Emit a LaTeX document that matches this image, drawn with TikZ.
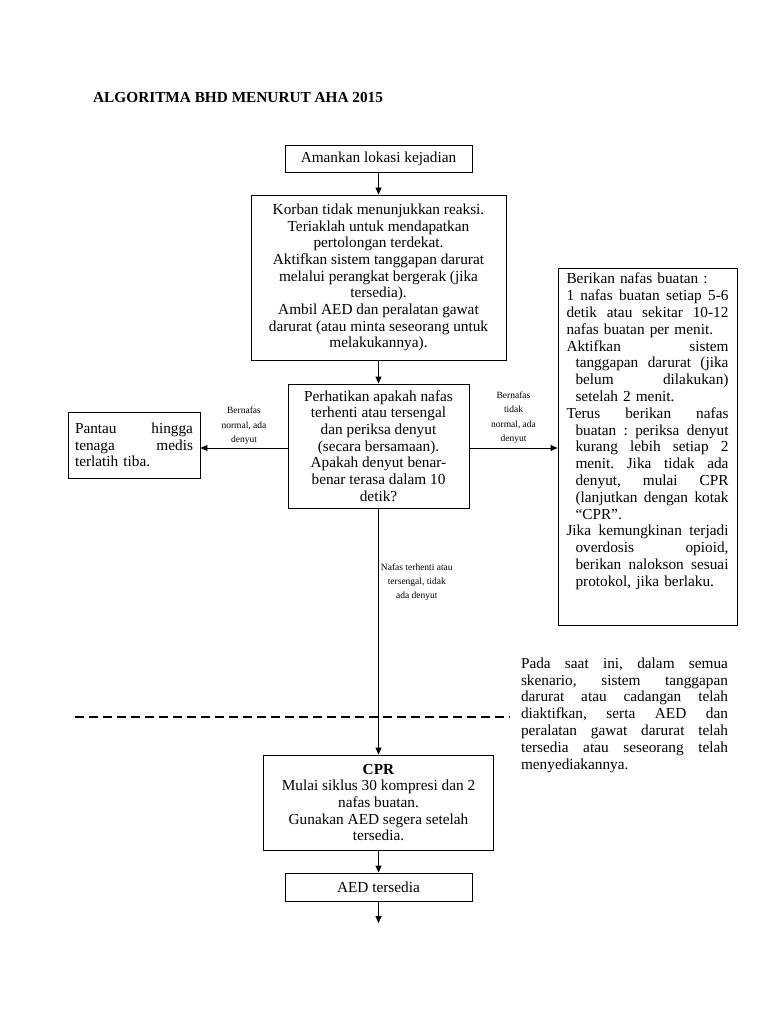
\documentclass[tikz,border=0pt]{standalone}
\usepackage{fontspec}
\setmainfont{Liberation Serif}
\usepackage{xcolor}
\usetikzlibrary{arrows.meta}
\frenchspacing
\newcommand{\jline}[1]{{\spaceskip=0pt\xspaceskip=0pt\makebox[\hsize][s]{#1}}}
\newcommand{\hangjline}[1]{{\spaceskip=0pt\xspaceskip=0pt\hspace*{9pt}\makebox[\dimexpr\hsize-9pt\relax][s]{#1}}}
\newcommand{\hangplain}[1]{\hspace*{9pt}#1}
\tikzset{
  flowBox/.style={draw, line width=0.9pt, inner sep=2pt, align=center,
    font=\fontsize{15.3}{16.7}\selectfont},
  flowArrow/.style={line width=0.9pt, -{Triangle[length=7pt,width=6pt]}},
  edgeLabel/.style={align=center, inner sep=0pt, font=\fontsize{9.5}{14.3}\selectfont},
  plainText/.style={align=left, inner sep=0pt, font=\fontsize{15.3}{16.8}\selectfont}
}

\begin{document}
\begin{tikzpicture}[x=1pt, y=-1pt]
  \useasboundingbox[fill=white] (0,0) rectangle (768,1024);
  \node[anchor=west, inner sep=0pt, font=\fontsize{15.3}{17}\selectfont\bfseries] (title) at (93,97) {ALGORITMA BHD MENURUT AHA 2015};
  \node[flowBox, minimum width=187, minimum height=27] (amankan) at (378.5,158.5) {Amankan lokasi kejadian};
  \node[flowBox, minimum width=255, minimum height=165] (korban) at (378.5,277.5) {Korban tidak menunjukkan reaksi.\\Teriaklah untuk mendapatkan\\pertolongan terdekat.\\Aktifkan sistem tanggapan darurat\\melalui perangkat bergerak (jika\\tersedia).\\Ambil AED dan peralatan gawat\\darurat (atau minta seseorang untuk\\melakukannya).};
  \node[flowBox, minimum width=181, minimum height=124] (periksa) at (378.5,446) {Perhatikan apakah nafas\\terhenti atau tersengal\\dan periksa denyut\\(secara bersamaan).\\Apakah denyut benar-\\benar terasa dalam 10\\detik?};
  \node[flowBox, minimum width=132, minimum height=66, text width=118, align=left] (pantau) at (134,445) {\jline{Pantau hingga}\\\jline{tenaga medis}\\terlatih tiba.};
  \node[flowBox, minimum width=179, minimum height=357] (nafasBox) at (647.5,446.5) {};
  \node[plainText, anchor=north, text width=162] (nafasText) at (647.5,273) {Berikan nafas buatan :\\\jline{1 nafas buatan setiap 5-6}\\\jline{detik atau sekitar 10-12}\\nafas buatan per menit.\\\jline{Aktifkan sistem}\\\hangjline{tanggapan darurat (jika}\\\hangjline{belum dilakukan)}\\\hangplain{setelah 2 menit.}\\\jline{Terus berikan nafas}\\\hangjline{buatan : periksa denyut}\\\hangjline{kurang lebih setiap 2}\\\hangjline{menit. Jika tidak ada}\\\hangjline{denyut, mulai CPR}\\\hangjline{(lanjutkan dengan kotak}\\\hangplain{“CPR”.}\\\jline{Jika kemungkinan terjadi}\\\hangjline{overdosis opioid,}\\\hangjline{berikan nalokson sesuai}\\\hangplain{protokol, jika berlaku.}};
  \node[plainText, text width=207] (catatan) at (624.5,715) {\jline{Pada saat ini, dalam semua}\\\jline{skenario, sistem tanggapan}\\\jline{darurat atau cadangan telah}\\\jline{diaktifkan, serta AED dan}\\\jline{peralatan gawat darurat telah}\\\jline{tersedia atau seseorang telah}\\menyediakannya.};
  \node[flowBox, minimum width=230, minimum height=95] (cpr) at (378.5,802.5) {\textbf{CPR}\\Mulai siklus 30 kompresi dan 2\\nafas buatan.\\Gunakan AED segera setelah\\tersedia.};
  \node[flowBox, minimum width=187, minimum height=28] (aed) at (378.5,887) {AED tersedia};
  \coordinate (aedEnd) at (378.5,923);
  \coordinate (dashL) at (75,717);
  \coordinate (dashR) at (510,717);
  % connectors
  \draw[flowArrow] (periksa.west |- 0,448) -- (pantau.east |- 0,448) node[edgeLabel, midway, above=3pt] {Bernafas\\normal, ada\\denyut};
  \draw[flowArrow] (periksa.east |- 0,448) -- (nafasBox.west |- 0,448) node[edgeLabel, midway, above=4pt] {Bernafas\\tidak\\normal, ada\\denyut};
  \draw[flowArrow] (amankan) -- (korban);
  \draw[flowArrow] (korban) -- (periksa);
  \draw[flowArrow] (periksa) -- (cpr) node[edgeLabel, pos=0.3, right=2pt] {Nafas terhenti atau\\tersengal, tidak\\ada denyut};
  \draw[flowArrow] (cpr) -- (aed);
  \draw[flowArrow] (aed) -- (aedEnd);
  \draw[line width=1.6pt, dash pattern=on 9pt off 5pt] (dashL) -- (dashR);
\end{tikzpicture}
\end{document}
